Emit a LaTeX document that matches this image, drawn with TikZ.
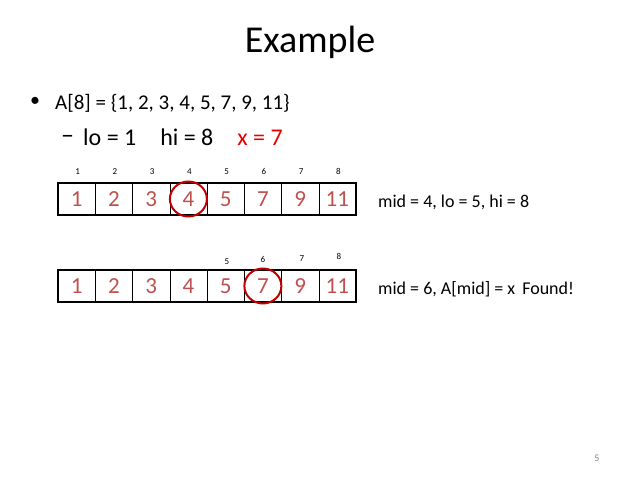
\documentclass[tikz,border=0pt]{standalone}
\usepackage{fontspec}
\setmainfont{Carlito}
\usetikzlibrary{positioning,calc}
\definecolor{numred}{RGB}{192,80,77}
\definecolor{circred}{RGB}{192,0,0}
\definecolor{xred}{RGB}{230,0,0}

\begin{document}
\begin{tikzpicture}[x=1pt,y=-1pt,
    cell/.style={draw,minimum width=37.25pt,minimum height=32pt,inner sep=0pt,
      text=numred,font=\fontsize{23}{23}\selectfont},
    idx/.style={anchor=base,font=\fontsize{9}{9}\selectfont,inner sep=0pt},
    note/.style={anchor=base west,inner sep=0pt,font=\fontsize{18}{18}\selectfont}]
\useasboundingbox (0,0) rectangle (638,478);

\node (title) at (310,42) {\fontsize{38}{38}\selectfont Example};
\node[anchor=west,inner sep=0pt] (bullet) at (30,102) {\fontsize{20}{20}\selectfont •};
\node[anchor=west,inner sep=0pt] (arr) at (55,103) {\fontsize{21}{21}\selectfont A[8] = \{1, 2, 3, 4, 5, 7, 9, 11\}};
\node[anchor=west,inner sep=0pt] (dash) at (61,139) {\fontsize{26}{26}\selectfont –};
\node[anchor=west,inner sep=0pt] (bounds) at (83,137) {\fontsize{24}{24}\selectfont lo = 1\quad hi = 8\quad \textcolor{xred}{x = 7}};

% first pass
\foreach \v [count=\i] in {1,2,3,4,5,7,9,11}
  \node[cell] (a\i) at ({58+37.25*(\i-0.5)},199) {\v};
\draw[line width=1.6pt] (a1.north west) rectangle (a8.south east);
\foreach \i in {1,...,8}
  \node[idx] (ia\i) at ($(a\i)+(1,-24)$) {\i};
\draw[circred,line width=2pt] (a4) ellipse (18.5 and 17.5);
\node[note] (n1) at (378,208) {mid = 4, lo = 5, hi = 8};

% second pass
\foreach \v [count=\i] in {1,2,3,4,5,7,9,11}
  \node[cell] (b\i) at ({58+37.25*(\i-0.5)},286) {\v};
\draw[line width=1.6pt] (b1.north west) rectangle (b8.south east);
\node[idx] (ib5) at (227,265) {5};
\node[idx] (ib6) at (263,263) {6};
\node[idx] (ib7) at (302,262) {7};
\node[idx] (ib8) at (339,260) {8};
\draw[circred,line width=2pt] (b6) ellipse (18.5 and 17.5);
\node[note] (n2) at (378,295) {mid = 6, A[mid] = x\hspace{7pt}Found!};

\node[text=gray,font=\fontsize{10}{10}\selectfont] (page) at (597,458) {5};
\end{tikzpicture}
\end{document}
